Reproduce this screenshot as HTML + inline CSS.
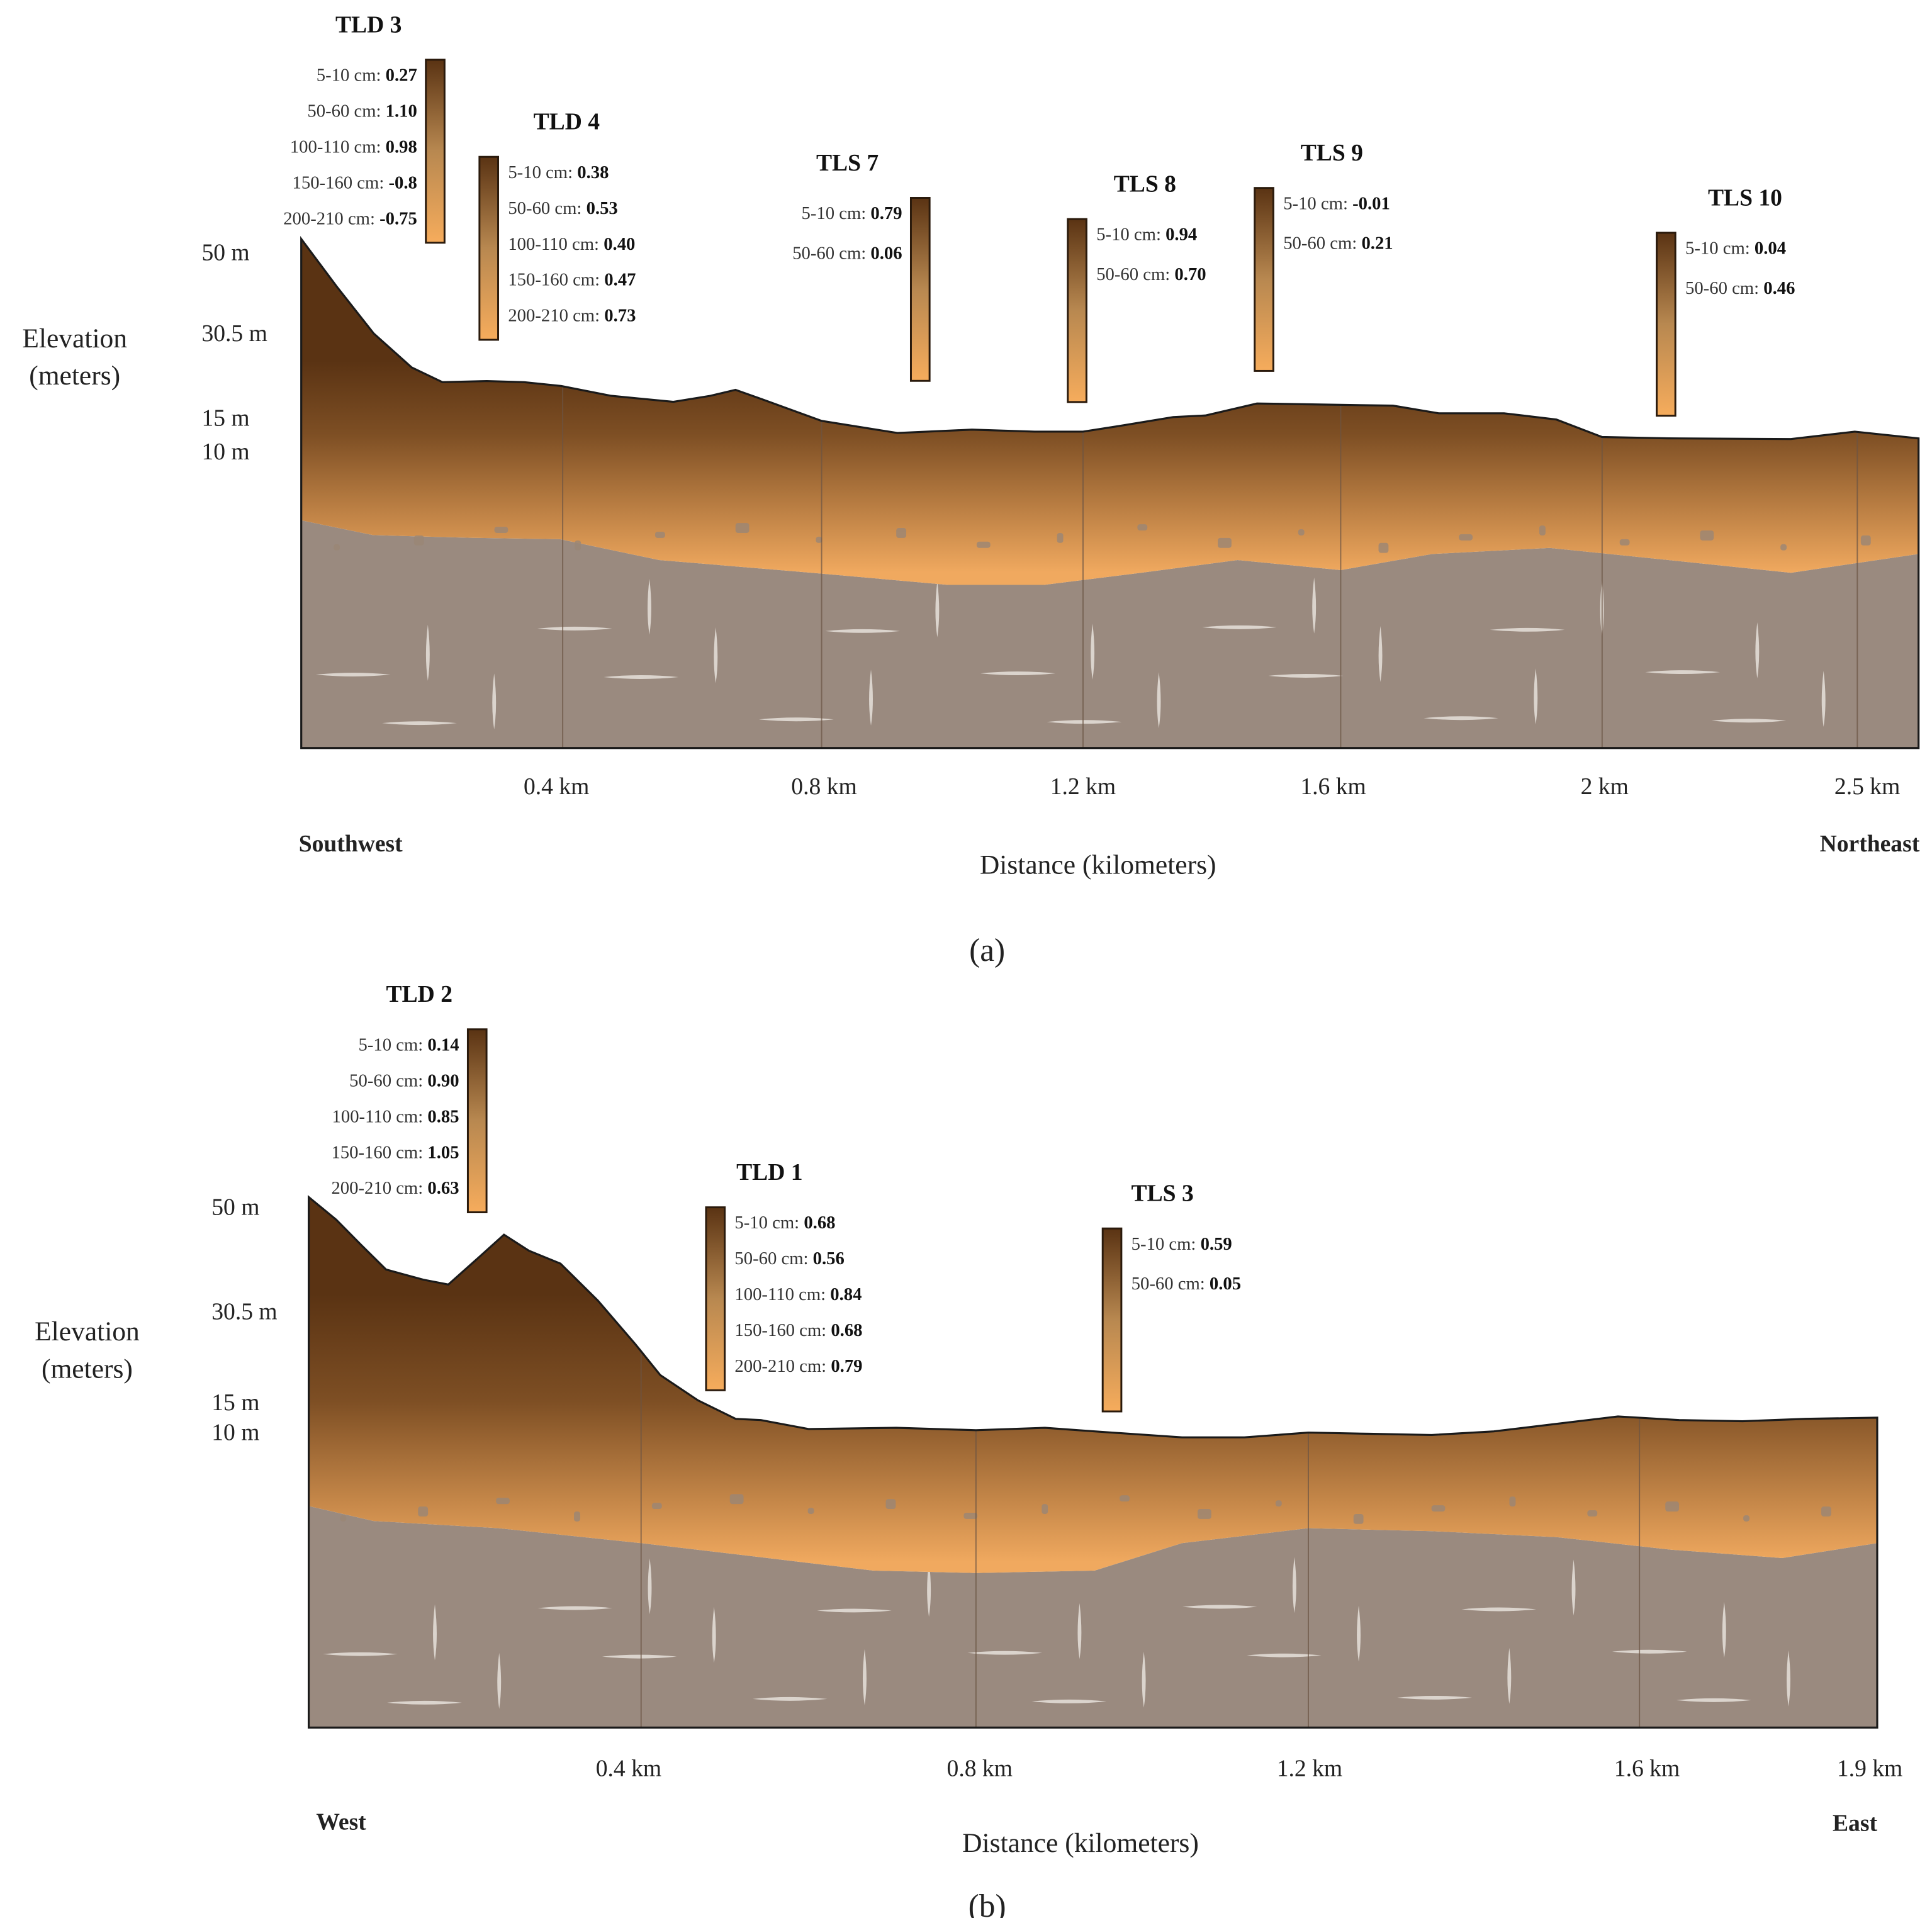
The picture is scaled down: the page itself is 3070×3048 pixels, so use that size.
<!DOCTYPE html>
<html><head><meta charset="utf-8">
<style>
html,body{margin:0;padding:0;background:#fff;}
svg{display:block;font-family:"Liberation Serif",serif;}
</style></head>
<body>
<svg id="fig" xmlns="http://www.w3.org/2000/svg" width="3070" height="3048" viewBox="0 0 1552 1541" preserveAspectRatio="none">
<defs>
<linearGradient id="soilA" gradientUnits="userSpaceOnUse" x1="0" y1="290" x2="0" y2="460">
<stop offset="0" stop-color="#5a3313"/><stop offset="0.35" stop-color="#7e4f24"/><stop offset="1" stop-color="#f0a95f"/></linearGradient>
<linearGradient id="soilB" gradientUnits="userSpaceOnUse" x1="0" y1="1040" x2="0" y2="1255">
<stop offset="0" stop-color="#5a3313"/><stop offset="0.4" stop-color="#7e4f24"/><stop offset="1" stop-color="#f0a95f"/></linearGradient>
<linearGradient id="core" x1="0" y1="0" x2="0" y2="1">
<stop offset="0" stop-color="#5a3313"/><stop offset="0.5" stop-color="#b88850"/><stop offset="1" stop-color="#f6ac5c"/></linearGradient>
</defs>
</svg>
<script>
// ---------- Panel (a) data ----------
const aTickKm = [0, 0.4, 0.8, 1.2, 1.6, 2, 2.5];
const aTickLabels = ["", "0.4 km", "0.8 km", "1.2 km", "1.6 km", "2 km", "2.5 km"];
const aElevTicks = [10, 15, 30.5, 50];
const aElevLabels = ["10 m", "15 m", "30.5 m", "50 m"];
const aProfileKm = [0,0.054,0.111,0.169,0.216,0.284,0.341,0.398,0.475,0.571,0.628,0.667,0.705,0.8,0.916,1.03,1.126,1.2,1.26,1.34,1.39,1.47,1.57,1.68,1.75,1.85,1.93,2.0,2.13,2.37,2.495,2.62];
const aProfileElev = [53.3,41.9,30.5,24.3,21.6,21.8,21.6,20.9,19.1,18.0,19.1,20.2,18.6,14.6,12.8,13.3,13.0,13.0,13.9,15.2,15.5,17.7,17.5,17.3,15.9,15.9,14.8,12.2,12.0,11.9,13.0,12.0];
const aBoundKm = [0,0.11,0.263,0.396,0.549,0.785,0.994,1.14,1.29,1.44,1.6,1.74,1.92,2.13,2.37,2.62];
const aBoundElev = [-0.2,-2.4,-2.8,-3.0,-6.1,-8.0,-9.8,-9.8,-8.0,-6.1,-7.6,-5.2,-4.3,-6.1,-8.0,-5.2];
const aCoreNames = ["TLD 3","TLD 4","TLS 7","TLS 8","TLS 9","TLS 10"];
const aCoreKm = [0.204,0.286,0.95,1.19,1.48,2.124];
const aCoreSide = ["left","right","left","right","right","right"];
const aCoreTop = [48,126,159,176,151,187];
const aCoreDepths = [
 ["5-10 cm","50-60 cm","100-110 cm","150-160 cm","200-210 cm"],
 ["5-10 cm","50-60 cm","100-110 cm","150-160 cm","200-210 cm"],
 ["5-10 cm","50-60 cm"],["5-10 cm","50-60 cm"],["5-10 cm","50-60 cm"],["5-10 cm","50-60 cm"]];
const aCoreValues = [["0.27","1.10","0.98","-0.8","-0.75"],["0.38","0.53","0.40","0.47","0.73"],["0.79","0.06"],["0.94","0.70"],["-0.01","0.21"],["0.04","0.46"]];

// ---------- Panel (b) data ----------
const bTickKm = [0, 0.4, 0.8, 1.2, 1.6, 1.9];
const bTickLabels = ["", "0.4 km", "0.8 km", "1.2 km", "1.6 km", "1.9 km"];
const bElevTicks = [10, 15, 30.5, 50];
const bElevLabels = ["10 m", "15 m", "30.5 m", "50 m"];
const bProfileKm = [0,0.033,0.063,0.093,0.138,0.168,0.205,0.235,0.265,0.303,0.348,0.393,0.423,0.468,0.513,0.543,0.6,0.705,0.8,0.883,0.943,1.048,1.123,1.2,1.274,1.349,1.424,1.514,1.574,1.65,1.73,1.81,1.9];
const bProfileElev = [51.9,47.7,43.0,38.4,36.5,35.6,40.7,44.9,41.9,39.5,32.6,25.0,19.7,15.4,12.3,12.1,10.6,10.8,10.4,10.8,10.2,9.2,9.2,10,9.8,9.6,10.2,11.7,12.7,12.1,11.9,12.3,12.5];
const bBoundKm = [0,0.078,0.228,0.4,0.527,0.677,0.8,0.943,1.048,1.2,1.349,1.5,1.64,1.78,1.9];
const bBoundElev = [-2.3,-4.8,-6.0,-8.5,-10.6,-13.1,-13.5,-13.1,-8.5,-6.0,-6.5,-7.5,-9.6,-11.0,-8.5];
const bCoreNames = ["TLD 2","TLD 1","TLS 3"];
const bCoreKm = [0.202,0.488,0.963];
const bCoreSide = ["left","right","right"];
const bCoreTop = [827,970,987];
const bCoreDepths = [
 ["5-10 cm","50-60 cm","100-110 cm","150-160 cm","200-210 cm"],
 ["5-10 cm","50-60 cm","100-110 cm","150-160 cm","200-210 cm"],
 ["5-10 cm","50-60 cm"]];
const bCoreValues = [["0.14","0.90","0.85","1.05","0.63"],["0.68","0.56","0.84","0.68","0.79"],["0.59","0.05"]];

const NS = "http://www.w3.org/2000/svg";
const svg = document.getElementById("fig");
function mk(tag, attrs, parent){const e=document.createElementNS(NS,tag);for(const k in attrs)e.setAttribute(k,attrs[k]);(parent||svg).appendChild(e);return e;}
function piece(dom, rng){return v=>{let i=0;while(i<dom.length-2&&v>dom[i+1])i++;const t=(v-dom[i])/(dom[i+1]-dom[i]);return rng[i]+t*(rng[i+1]-rng[i]);};}

function panel(cfg){
 const g = mk("g",{});
 
 
 const x = piece(cfg.tickKm, cfg.xRange);
 const y = piece(cfg.elevTicks, cfg.yRange);
 const top = cfg.profKm.map((k,i)=>[x(k),y(cfg.profElev[i])]);
 const bnd = cfg.bKm.map((k,i)=>[x(k),y(cfg.bElev[i])]);
 const x0=x(0), x1=top[top.length-1][0], yb=cfg.bottom;
 const bndR = bnd.slice().reverse();
 const rock = mk("path",{d:"M"+bnd.map(p=>p.join(",")).join("L")+"L"+x1+","+yb+"L"+x0+","+yb+"Z",fill:"#9a8a7f"},g);
 
 
 for(let i=0;i<14;i++){
  const fx = x0+(x1-x0)*((i*0.137+0.05)%1), fy = yb-20-((i*37)%110);
  const r = mk("path",{d:`M${fx},${fy} q30,-3 60,0 q-30,3 -60,0Z`,fill:"#e6e0da",opacity:"0.85"},g);
  
  
  const v = mk("path",{d:`M${fx+90},${fy-40} q3,25 0,45 q-3,-20 0,-45Z`,fill:"#e6e0da",opacity:"0.85"},g);
  
  
 }
 const soil = mk("path",{d:"M"+top.map(p=>p.join(",")).join("L")+"L"+bndR.map(p=>p.join(",")).join("L")+"Z",fill:cfg.grad},g);
 
 
 for(let i=0;i<20;i++){
  const k=(i*0.0497+0.02)%1; const px=x0+(x1-x0)*k;
  const p = mk("rect",{x:px,y:y(-3)-((i*7)%18)+4,width:5+(i%3)*3,height:5+(i%2)*3,rx:2,fill:"#9a8676",opacity:"0.8"},g);
  
  
 }
 cfg.tickKm.forEach((k,i)=>{ if(i===0) return; const gx=x(k); if(gx>x1-2) return;
  let ty=0; for(let j=0;j<top.length-1;j++){if(gx>=top[j][0]&&gx<=top[j+1][0]){const t=(gx-top[j][0])/(top[j+1][0]-top[j][0]);ty=top[j][1]+t*(top[j+1][1]-top[j][1]);}}
  const l=mk("line",{x1:gx,x2:gx,y1:ty,y2:yb,stroke:"#6b5444","stroke-width":1,opacity:"0.7"},g);
  
  
 });
 const ol = mk("path",{d:"M"+x0+","+yb+"L"+top.map(p=>p.join(",")).join("L")+"L"+x1+","+yb+"Z",fill:"none",stroke:"#1a1a1a","stroke-width":1.6},g);
 
 
 cfg.tickKm.forEach((k,i)=>{ if(!cfg.tickLabels[i]) return;
  const t=mk("text",{x:x(k)+cfg.tickDx[i],y:cfg.tickY,"font-size":19,"text-anchor":"middle",fill:"#222"},g);
  t.textContent=cfg.tickLabels[i];
  
  
 });
 cfg.elevTicks.forEach((v,i)=>{
  const t=mk("text",{x:cfg.yLabelX,y:y(v)+6,"font-size":19,fill:"#222"},g);
  t.textContent=cfg.elevLabels[i];
  
  
 });
 cfg.cNames.forEach((n,i)=>{
  const cx=x(cfg.cKm[i]); const t0=cfg.cTop[i]; const h=147;
  const r=mk("rect",{x:cx-7,y:t0,width:15,height:h,fill:"url(#core)",stroke:"#2a1a0c","stroke-width":1.5},g);
  
  
  const nm=mk("text",{x:cx+cfg.nameDx[i],y:t0-22,"font-size":19,"font-weight":"bold","text-anchor":"middle",fill:"#111"},g);
  nm.textContent=n;
  
  
  const n5=cfg.cDepths[i].length; const step = n5===5?28.8:32;
  cfg.cDepths[i].forEach((d,j)=>{
   const left=cfg.cSide[i]==="left";
   const tx=mk("text",{x:left?cx-14:cx+16,y:t0+17+j*step,"font-size":14.5,"text-anchor":left?"end":"start",fill:"#333"},g);
   
   
   const s1=document.createElementNS(NS,"tspan"); s1.textContent=d+": "; tx.appendChild(s1);
   const s2=document.createElementNS(NS,"tspan"); s2.setAttribute("font-weight","bold"); s2.setAttribute("fill","#111"); s2.textContent=cfg.cValues[i][j]; tx.appendChild(s2);
  });
 });
 const lbls=[[cfg.elevX,cfg.elevY,"Elevation",22,"normal","middle","y-axis-title"],[cfg.elevX,cfg.elevY+30,"(meters)",22,"normal","middle","y-axis-title"],
  [cfg.distX,cfg.distY,"Distance (kilometers)",22,"normal","middle","x-axis-title"],
  [cfg.dirL[0],cfg.dirL[1],cfg.dirL[2],19,"bold","start","direction-label-left"],[cfg.dirR[0],cfg.dirR[1],cfg.dirR[2],19,"bold","end","direction-label-right"],
  [793,cfg.panelY,cfg.panelLbl,26,"normal","middle","panel-label"]];
 lbls.forEach(l=>{const t=mk("text",{x:l[0],y:l[1],"font-size":l[3],"font-weight":l[4],"text-anchor":l[5],fill:"#222"},g);t.textContent=l[2];
  
  });
}

panel({name:"panel-a",tickKm:aTickKm,tickLabels:aTickLabels,xRange:[242,452,660,870,1077,1287,1492],elevTicks:aElevTicks,elevLabels:aElevLabels,yRange:[363,336,268,203],
 profKm:aProfileKm,profElev:aProfileElev,bKm:aBoundKm,bElev:aBoundElev,bottom:601,grad:"url(#soilA)",tickY:638,tickDx:[0,-5,2,0,-6,2,8],yLabelX:162,
 cNames:aCoreNames,cKm:aCoreKm,cSide:aCoreSide,cTop:aCoreTop,cDepths:aCoreDepths,cValues:aCoreValues,nameDx:[-53,63,-58,55,55,64],
 elevX:60,elevY:279,distX:882,distY:702,dirL:[240,684,"Southwest"],dirR:[1542,684,"Northeast"],panelY:772,panelLbl:"(a)"});
panel({name:"panel-b",tickKm:bTickKm,tickLabels:bTickLabels,xRange:[248,515,784,1051,1317,1508],elevTicks:bElevTicks,elevLabels:bElevLabels,yRange:[1151,1127,1054,970],
 profKm:bProfileKm,profElev:bProfileElev,bKm:bBoundKm,bElev:bBoundElev,bottom:1388,grad:"url(#soilB)",tickY:1427,tickDx:[0,-10,3,1,6,-6],yLabelX:170,
 cNames:bCoreNames,cKm:bCoreKm,cSide:bCoreSide,cTop:bCoreTop,cDepths:bCoreDepths,cValues:bCoreValues,nameDx:[-46,44,41],
 elevX:70,elevY:1077,distX:868,distY:1488,dirL:[254,1470,"West"],dirR:[1508,1471,"East"],panelY:1540,panelLbl:"(b)"});
</script>
</body></html>
